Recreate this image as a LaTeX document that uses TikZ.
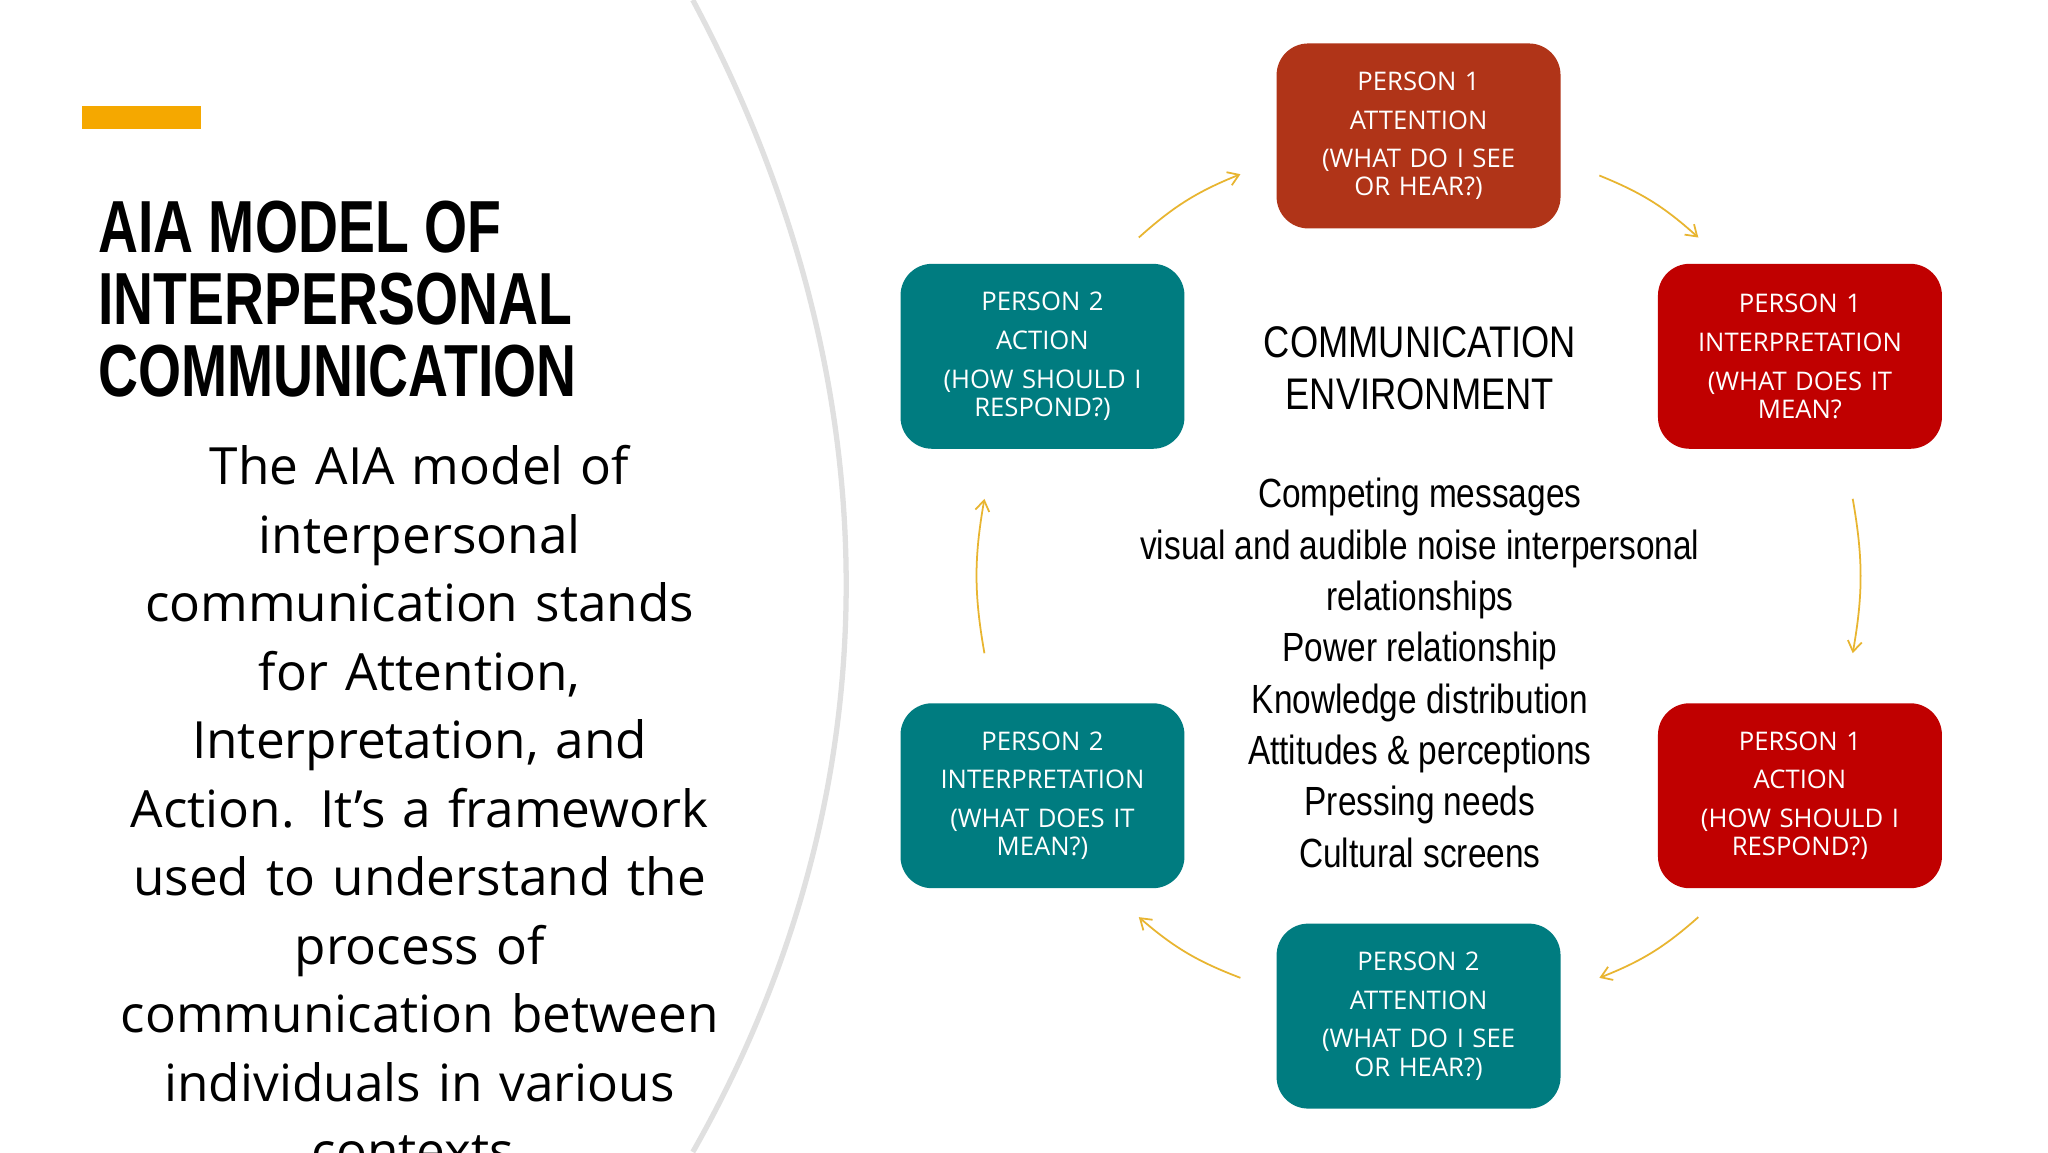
\documentclass[tikz,border=0pt]{standalone}
\usepackage{fontspec}
\setmainfont{Open Sans}
\newfontfamily\cond[FakeStretch=0.82]{Liberation Sans}
\newfontfamily\condt[FakeStretch=0.75]{Liberation Sans}
\usetikzlibrary{arrows.meta}
\definecolor{rust}{HTML}{B03418}
\definecolor{red1}{HTML}{C00000}
\definecolor{teal1}{HTML}{007C80}
\definecolor{gold}{HTML}{E8B530}
\definecolor{bar}{HTML}{F5A800}
\begin{document}
\begin{tikzpicture}[x=0.013196cm,y=-0.013196cm,
 box/.style={rounded corners=9pt,minimum width=2.84cm,minimum height=1.85cm,text width=2.8cm,align=center,text=white,font=\fontsize{7.3}{11}\selectfont,inner sep=0pt},
 arr/.style={gold,line width=0.5pt,-{Straight Barb[length=3pt,width=4pt]}}]
\useasboundingbox (0,0) rectangle (1552,873);
\fill[white] (0,0) rectangle (1552,873);
\draw[black!12,line width=1.5pt] (525,0) .. controls (680,290) and (680,600) .. (525,873);
\fill[bar] (62,80) rectangle (152,98);
\node[anchor=north west,align=left,font=\condt\bfseries\fontsize{21}{20.5}\selectfont,inner sep=0pt] (title) at (74,152) {AIA MODEL OF\\INTERPERSONAL\\COMMUNICATION};
\node[anchor=north,align=center,font=\fontsize{14.6}{19.5}\selectfont,inner sep=0pt,text width=7cm] (body) at (318,337) {The AIA model of\\interpersonal\\communication stands\\for Attention,\\Interpretation, and\\Action. It's a framework\\used to understand the\\process of\\communication between\\individuals in various\\contexts.};
\node[box,fill=rust] (a) at (1075,103) {PERSON 1\\ATTENTION\\(WHAT DO I SEE\\[-3pt]OR HEAR?)};
\node[box,fill=red1] (b) at (1364,270) {PERSON 1\\INTERPRETATION\\(WHAT DOES IT\\[-3pt]MEAN?};
\node[box,fill=red1] (c) at (1364,603) {PERSON 1\\ACTION\\(HOW SHOULD I\\[-3pt]RESPOND?)};
\node[box,fill=teal1] (d) at (1075,770) {PERSON 2\\ATTENTION\\(WHAT DO I SEE\\[-3pt]OR HEAR?)};
\node[box,fill=teal1] (e) at (790,603) {PERSON 2\\INTERPRETATION\\(WHAT DOES IT\\[-3pt]MEAN?)};
\node[box,fill=teal1] (f) at (790,270) {PERSON 2\\ACTION\\(HOW SHOULD I\\[-3pt]RESPOND?)};
\node[align=center,font=\cond\fontsize{12.6}{14.6}\selectfont,inner sep=0pt] (env) at (1076,279) {COMMUNICATION\\ENVIRONMENT};
\node[anchor=north,align=center,font=\cond\fontsize{11.6}{14.6}\selectfont,inner sep=0pt] (list) at (1076,362) {Competing messages\\visual and audible noise interpersonal\\relationships\\Power relationship\\Knowledge distribution\\Attitudes \& perceptions\\Pressing needs\\Cultural screens};
\coordinate (p1) at (863,180); \coordinate (p2) at (940,132);
\coordinate (p3) at (1212,133); \coordinate (p4) at (1287,180);
\coordinate (p5) at (1404,378); \coordinate (p6) at (1404,495);
\coordinate (p7) at (1287,695); \coordinate (p8) at (1212,741);
\coordinate (p9) at (940,741); \coordinate (p10) at (863,695);
\coordinate (p11) at (746,495); \coordinate (p12) at (746,378);
\draw[arr] (p1) to[bend left=10] (p2);
\draw[arr] (p3) to[bend left=10] (p4);
\draw[arr] (p5) to[bend left=10] (p6);
\draw[arr] (p7) to[bend left=10] (p8);
\draw[arr] (p9) to[bend left=10] (p10);
\draw[arr] (p11) to[bend left=10] (p12);
\end{tikzpicture}
\end{document}
